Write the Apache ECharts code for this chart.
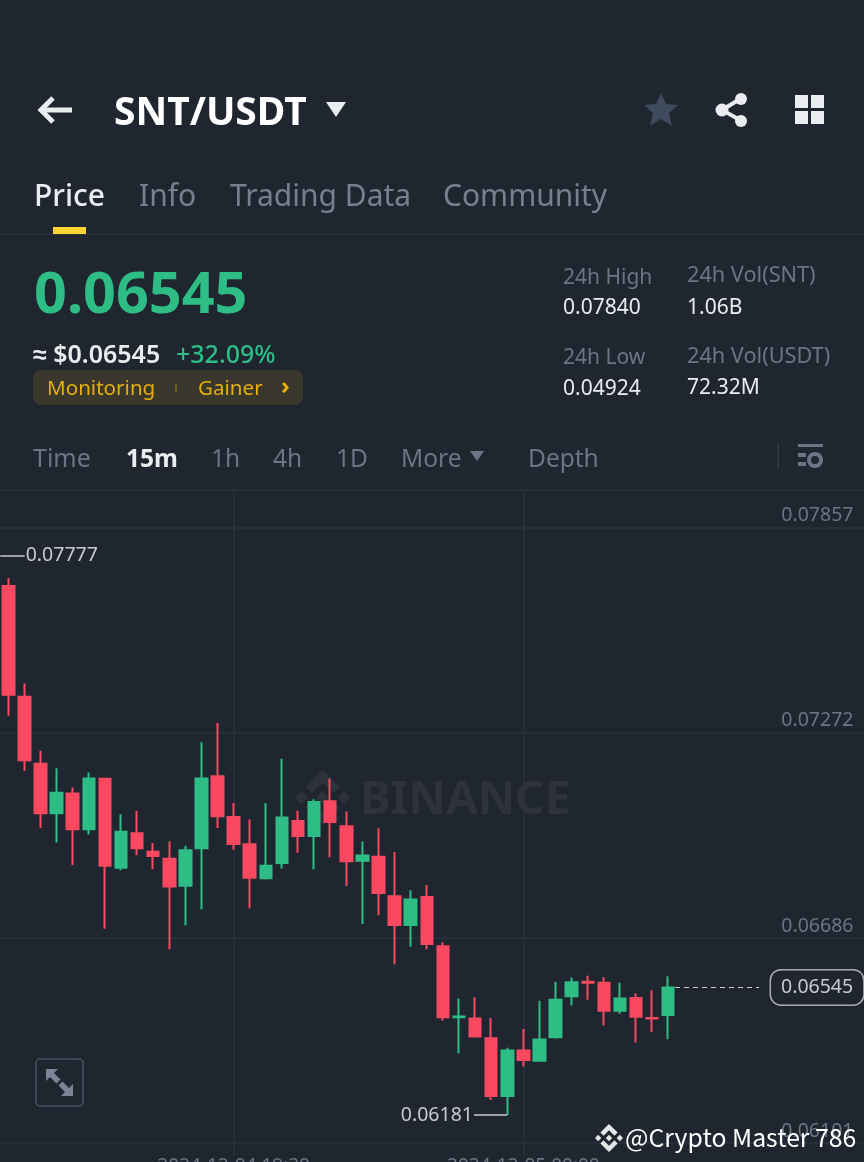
<!DOCTYPE html>
<html>
<head>
<meta charset="utf-8">
<title>SNT/USDT</title>
<style>
  html, body { margin: 0; padding: 0; background: #1f2630; }
  #chart { width: 864px; height: 1162px; }
</style>
<script src="https://cdn.jsdelivr.net/npm/echarts@6/dist/echarts.min.js"></script>
</head>
<body>
<div id="chart"></div>
<script>
// 15m candles
const candleTimes = [
  '16:00','16:15','16:30','16:45','17:00','17:15','17:30','17:45','18:00','18:15','18:30','18:45','19:00','19:15',
  '19:30','19:45','20:00','20:15','20:30','20:45','21:00','21:15','21:30','21:45','22:00','22:15','22:30','22:45',
  '23:00','23:15','23:30','23:45','00:00','00:15','00:30','00:45','01:00','01:15','01:30','01:45','02:00','02:15'
];
const opens = [
  0.07690,0.07374,0.07183,0.07042,0.07098,0.06996,0.07140,0.06886,0.06985,0.06932,0.06912,0.06835,0.06942,0.07147,
  0.07031,0.06953,0.06856,0.06900,0.07020,0.06977,0.07076,0.07005,0.06906,0.06918,0.06805,0.06723,0.06803,0.06662,
  0.06460,0.06456,0.06400,0.06235,0.06365,0.06336,0.06403,0.06520,0.06561,0.06558,0.06478,0.06515,0.06458,0.06466
];
const closes = [
  0.07380,0.07193,0.07042,0.07100,0.06996,0.07141,0.06892,0.06989,0.06942,0.06920,0.06833,0.06936,0.07141,0.07033,
  0.06954,0.06858,0.06892,0.07030,0.06977,0.07074,0.07017,0.06905,0.06921,0.06814,0.06723,0.06796,0.06669,0.06460,
  0.06462,0.06405,0.06235,0.06365,0.06338,0.06396,0.06510,0.06560,0.06558,0.06478,0.06513,0.06461,0.06456,0.06545
];
const lows = [
  0.07320,0.07163,0.07000,0.06958,0.06894,0.06981,0.06712,0.06879,0.06922,0.06882,0.06654,0.06722,0.06768,0.07000,
  0.06938,0.06771,0.06853,0.06884,0.06929,0.06882,0.06916,0.06834,0.06726,0.06751,0.06611,0.06661,0.06654,0.06450,
  0.06357,0.06402,0.06224,0.06181,0.06319,0.06333,0.06399,0.06493,0.06510,0.06436,0.06470,0.06388,0.06418,0.06397
];
const highs = [
  0.07712,0.07412,0.07220,0.07170,0.07115,0.07158,0.07143,0.07039,0.07049,0.06957,0.06962,0.06949,0.07244,0.07299,
  0.07071,0.07024,0.07071,0.07197,0.07049,0.07082,0.07141,0.07047,0.06961,0.06999,0.06931,0.06822,0.06837,0.06674,
  0.06513,0.06517,0.06458,0.06373,0.06426,0.06507,0.06561,0.06573,0.06578,0.06574,0.06558,0.06528,0.06537,0.06577
];

// axis ticks
const priceTicks = [0.06101, 0.06686, 0.07272, 0.07857];
const timeTicks = [14, 32];
const timeTickLabels = ['2024-12-04 19:30', '2024-12-05 00:00'];

// price notes
const highNote = 0.07777;
const lowNote = 0.06181;
const lastPrice = 0.06545;

// colours
const bg = '#1f2630';
const green = '#2ebd85';
const red = '#f84960';
const gridColor = '#2b313c';
const white = '#eaecef';
const grey = '#76808f';
const dimGrey = '#6c7585';
const noteColor = '#c7cad0';
const font = '"Noto Sans", sans-serif';

// page texts around the chart
const uiTexts = [
  ['SNT/USDT', 114, 114, 39, 700, '#ffffff'],
  ['Price', 34, 197, 30, 500, white],
  ['Info', 139, 197, 30, 400, grey],
  ['Trading Data', 230, 197, 30, 400, grey],
  ['Community', 443, 197, 30, 400, grey],
  ['0.06545', 34, 297, 57.5, 700, green],
  ['≈ $0.06545', 33, 356, 25, 600, white],
  ['+32.09%', 176, 356, 25, 500, green],
  ['Monitoring', 47, 389, 20.6, 400, '#e6ae0c'],
  ['Gainer', 198, 389, 20.6, 400, '#e6ae0c'],
  ['›', 281, 387, 24, 700, '#e6ae0c'],
  ['24h High', 563, 278, 21, 400, dimGrey],
  ['0.07840', 563, 308, 21, 400, white],
  ['24h Vol(SNT)', 687, 276, 21.7, 400, dimGrey],
  ['1.06B', 687, 308, 21, 400, white],
  ['24h Low', 563, 358, 21, 400, dimGrey],
  ['0.04924', 563, 389, 21, 400, white],
  ['24h Vol(USDT)', 687, 357, 21.7, 400, dimGrey],
  ['72.32M', 687, 388, 21, 400, white],
  ['Time', 33, 460, 25, 400, dimGrey],
  ['15m', 126, 460, 24.5, 700, white],
  ['1h', 211, 460, 24.5, 400, dimGrey],
  ['4h', 273, 460, 24.5, 400, dimGrey],
  ['1D', 336, 460, 24.5, 400, dimGrey],
  ['More', 401, 460, 24.5, 400, dimGrey],
  ['Depth', 528, 460, 24.5, 400, dimGrey]
];

function uiText(t) {
  return {
    type: 'text', z: 10,
    style: {
      text: t[0], x: t[1], y: t[2],
      font: t[4] + ' ' + t[3] + 'px ' + font,
      fill: t[5], verticalAlign: 'middle', align: 'left'
    }
  };
}
function box(x, y, w, h, fill, r) {
  return { type: 'rect', z: 10, shape: { x: x, y: y, width: w, height: h, r: r || 0 }, style: { fill: fill } };
}
function poly(points, fill, z) {
  return { type: 'polygon', z: z || 10, shape: { points: points }, style: { fill: fill } };
}

// exchange logo, drawn on a 127 unit square
function logo(x, y, size, fill, z) {
  const s = size / 126.6;
  const parts = [
    [[38.7, 53.2], [63.3, 28.6], [87.9, 53.2], [102.2, 38.9], [63.3, 0], [24.4, 38.9]],
    [[0, 63.3], [14.3, 49], [28.6, 63.3], [14.3, 77.6]],
    [[38.7, 73.4], [63.3, 98], [87.9, 73.4], [102.2, 87.7], [63.3, 126.6], [24.4, 87.7]],
    [[98, 63.3], [112.3, 49], [126.6, 63.3], [112.3, 77.6]],
    [[77.8, 63.3], [63.3, 48.8], [48.8, 63.3], [63.3, 77.8]]
  ];
  return {
    type: 'group', x: x, y: y, scaleX: s, scaleY: s,
    children: parts.map(p => poly(p, fill, z))
  };
}

const graphics = [
  // dividers and tab marker
  box(0, 233.5, 864, 1.5, gridColor),
  box(53, 227, 33, 7, '#fcd535'),
  box(0, 489.5, 864, 1.5, gridColor),
  // back arrow
  { type: 'polyline', z: 10, shape: { points: [[53, 98], [41, 110], [53, 122]] }, style: { stroke: white, lineWidth: 5, fill: null } },
  box(41, 107.5, 31, 5, white),
  // pair caret
  poly([[326, 102], [346, 102], [336, 117]], white),
  // star
  poly([[661, 93], [666, 104], [678, 105], [669, 113], [672, 126], [661, 119], [650, 126], [653, 113], [644, 105], [656, 104]], '#3f4b5d'),
  // share
  { type: 'polyline', z: 10, shape: { points: [[740, 99], [722, 110], [740, 120]] }, style: { stroke: white, lineWidth: 4, fill: null } },
  { type: 'circle', z: 10, shape: { cx: 741, cy: 99, r: 6 }, style: { fill: white } },
  { type: 'circle', z: 10, shape: { cx: 722, cy: 110, r: 6.5 }, style: { fill: white } },
  { type: 'circle', z: 10, shape: { cx: 741, cy: 121, r: 6 }, style: { fill: white } },
  // layout squares
  box(795, 95, 13, 13, white), box(811, 95, 13, 13, white),
  box(795, 111, 13, 13, white), box(811, 111, 13, 13, white),
  // pill behind the tags
  box(33, 370, 270, 35, '#3a372c', 8),
  box(175, 384, 2, 8, '#6a5c22'),
  // More caret, settings
  poly([[470, 451], [484, 451], [477, 461]], dimGrey),
  box(777.5, 443, 1.5, 26, '#323945'),
  box(798, 444, 25, 3, dimGrey),
  box(798, 453, 8, 4, dimGrey),
  box(798, 462, 8, 4, dimGrey),
  { type: 'circle', z: 10, shape: { cx: 815, cy: 460, r: 6 }, style: { fill: bg, stroke: dimGrey, lineWidth: 4 } },
  // expand button
  { type: 'rect', z: 10, shape: { x: 36, y: 1059, width: 47, height: 47, r: 4 }, style: { fill: 'none', stroke: '#4a5261', lineWidth: 1.5 } },
  poly([[46, 1069], [58, 1069], [54, 1073], [60.5, 1079.5], [56.5, 1083.5], [50, 1077], [46, 1081]], '#7b8596'),
  poly([[73, 1096], [61, 1096], [65, 1092], [58.5, 1085.5], [62.5, 1081.5], [69, 1088], [73, 1084]], '#7b8596'),
  // watermark
  logo(295, 770, 55, '#2d323d', 1),
  { type: 'text', z: 1, style: { text: 'BINANCE', x: 360, y: 801, font: '700 46px ' + font, fill: '#2d323d', verticalAlign: 'middle' } },
  // credit
  logo(595, 1124, 28, '#e6e6e6', 12),
  { type: 'text', z: 12, style: { text: '@Crypto Master 786', x: 625, y: 1138, font: '400 24.8px "Noto Sans CJK SC", ' + font, fill: '#ffffff', verticalAlign: 'middle' } }
].concat(uiTexts.map(uiText));

const noteLabel = { show: true, position: 'end', distance: 1, color: noteColor, fontSize: 19.5, fontFamily: font };

const chart = echarts.init(document.getElementById('chart'));
chart.setOption({
  animation: false,
  backgroundColor: bg,
  textStyle: { fontFamily: font },
  graphic: graphics,
  grid: { left: 0.25, top: 490, width: 869.2, height: 665, outerBoundsMode: 'none' },
  xAxis: [
    // candle slots, one per 15m
    { type: 'category', data: candleTimes, max: 53, show: false },
    // same width in candle index units, for gridlines, time labels and price notes
    {
      type: 'value', min: -0.5, max: 53.5, position: 'bottom',
      axisLine: { show: false },
      axisTick: { show: false, customValues: timeTicks },
      splitLine: { show: true, lineStyle: { color: gridColor, width: 1.5 } },
      axisLabel: {
        customValues: timeTicks, margin: 2, color: dimGrey, fontSize: 19, verticalAlign: 'top',
        formatter: v => timeTickLabels[timeTicks.indexOf(v)]
      }
    }
  ],
  yAxis: {
    type: 'value', position: 'right', min: 0.060668, max: 0.07964,
    axisLine: { show: false },
    axisTick: { show: false, customValues: priceTicks },
    splitLine: { show: true, lineStyle: { color: gridColor, width: 1.5 } },
    axisLabel: {
      customValues: priceTicks, inside: true, margin: 16, color: dimGrey, fontSize: 19.5,
      verticalAlign: 'bottom', padding: [0, 0, 2, 0], formatter: v => v.toFixed(5)
    }
  },
  series: [
    {
      type: 'candlestick',
      xAxisIndex: 0,
      data: candleTimes.map((t, i) => [opens[i], closes[i], lows[i], highs[i]]),
      barWidth: 12,
      z: 3,
      itemStyle: { color: green, color0: red, borderColor: green, borderColor0: red, borderWidth: 2 }
    },
    {
      type: 'line',
      xAxisIndex: 1,
      data: [],
      z: 4,
      markLine: {
        silent: true,
        symbol: 'none',
        animation: false,
        data: [
          [
            { coord: [-0.5, highNote], lineStyle: { color: noteColor, width: 1.5, type: 'solid' }, label: Object.assign({}, noteLabel, { formatter: highNote.toFixed(5) }) },
            { coord: [1.02, highNote] }
          ],
          [
            { coord: [31, lowNote], lineStyle: { color: noteColor, width: 1.5, type: 'solid' }, label: Object.assign({}, noteLabel, { formatter: lowNote.toFixed(5) }) },
            { coord: [28.93, lowNote] }
          ],
          [
            { coord: [41.42, lastPrice], lineStyle: { color: noteColor, width: 1.2, type: [5, 4] },
              label: Object.assign({}, noteLabel, {
                formatter: lastPrice.toFixed(5), distance: 12,
                borderColor: '#a9aeb6', borderWidth: 1.5, borderRadius: 10, padding: [7, 10],
                backgroundColor: bg
              }) },
            { coord: [46.64, lastPrice] }
          ]
        ]
      }
    }
  ]
});
</script>
</body>
</html>
